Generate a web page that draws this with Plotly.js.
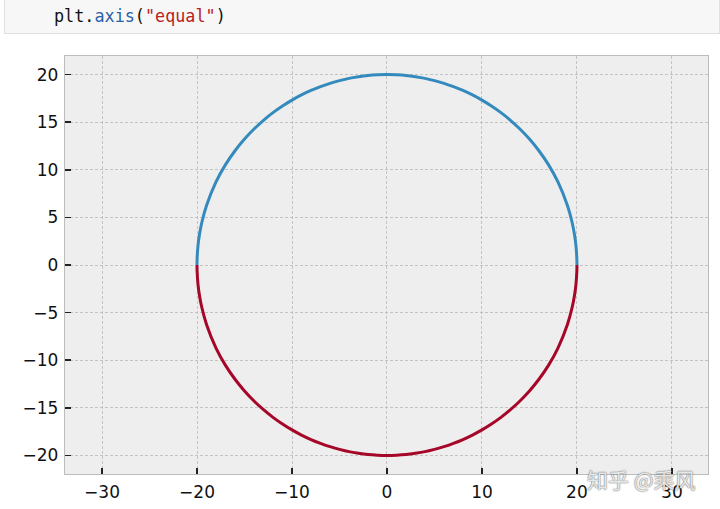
<!DOCTYPE html>
<html>
<head>
<meta charset="utf-8">
<script src="https://cdn.plot.ly/plotly-3.0.1.min.js"></script>
<style>
  html, body { margin: 0; padding: 0; background: #fff; }
  #wrap { position: relative; width: 720px; height: 509px; overflow: hidden; }
  #plot { position: absolute; left: 0; top: 0; width: 720px; height: 509px; }
  #cell { position: absolute; left: 4px; top: 0; width: 716px; height: 34px;
          background: #f7f7f7; border: 1px solid #e0e0e0; border-top: none; box-sizing: border-box;
          font-family: "DejaVu Sans Mono", monospace; font-size: 16.8px; line-height: 32px;
          padding-left: 49px; color: #111; }
  .kw { color: #2a62a8; } .st { color: #ba2121; }
</style>
</head>
<body>
<div id="wrap">
  <div id="plot"></div>
  <div id="cell">plt.<span class="kw">axis</span>(<span class="st">"equal"</span>)</div>
</div>
<script>
// Upper half of the circle (blue)
const upperX = [-20, -19.99, -19.9, -19.75, -19.5, -19, -18, -17, -16, -15, -14, -13, -12, -11, -10, -9, -8, -7, -6, -5, -4, -3, -2, -1, 0,
                1, 2, 3, 4, 5, 6, 7, 8, 9, 10, 11, 12, 13, 14, 15, 16, 17, 18, 19, 19.5, 19.75, 19.9, 19.99, 20];
const upperY = [0, 0.63, 2.0, 3.15, 4.44, 6.24, 8.72, 10.54, 12.0, 13.23, 14.28, 15.2, 16.0, 16.7, 17.32, 17.86, 18.33, 18.73, 19.08, 19.36, 19.6, 19.77, 19.9, 19.97, 20,
                19.97, 19.9, 19.77, 19.6, 19.36, 19.08, 18.73, 18.33, 17.86, 17.32, 16.7, 16.0, 15.2, 14.28, 13.23, 12.0, 10.54, 8.72, 6.24, 4.44, 3.15, 2.0, 0.63, 0];
// Lower half of the circle (red)
const lowerX = [-20, -19.99, -19.9, -19.75, -19.5, -19, -18, -17, -16, -15, -14, -13, -12, -11, -10, -9, -8, -7, -6, -5, -4, -3, -2, -1, 0,
                1, 2, 3, 4, 5, 6, 7, 8, 9, 10, 11, 12, 13, 14, 15, 16, 17, 18, 19, 19.5, 19.75, 19.9, 19.99, 20];
const lowerY = [0, -0.63, -2.0, -3.15, -4.44, -6.24, -8.72, -10.54, -12.0, -13.23, -14.28, -15.2, -16.0, -16.7, -17.32, -17.86, -18.33, -18.73, -19.08, -19.36, -19.6, -19.77, -19.9, -19.97, -20,
                -19.97, -19.9, -19.77, -19.6, -19.36, -19.08, -18.73, -18.33, -17.86, -17.32, -16.7, -16.0, -15.2, -14.28, -13.23, -12.0, -10.54, -8.72, -6.24, -4.44, -3.15, -2.0, -0.63, 0];

const xTicks = [-30, -20, -10, 0, 10, 20, 30];
const yTicks = [-20, -15, -10, -5, 0, 5, 10, 15, 20];

const traces = [
  { x: upperX, y: upperY, mode: 'lines', line: { color: '#348ABD', width: 3, shape: 'spline' }, hoverinfo: 'skip' },
  { x: lowerX, y: lowerY, mode: 'lines', line: { color: '#A60628', width: 3, shape: 'spline' }, hoverinfo: 'skip' }
];

const axisCommon = {
  showgrid: true, gridcolor: '#b8b8b8', griddash: '3px,2px', gridwidth: 0.8,
  zeroline: false, showline: true, linecolor: '#bcbcbc', linewidth: 1.2, mirror: true,
  ticks: 'inside', ticklen: 6, tickwidth: 1.5, tickcolor: '#222',
  tickfont: { family: 'DejaVu Sans', size: 17, color: '#111' }
};

const layout = {
  width: 720, height: 509,
  margin: { l: 65, r: 12, t: 56, b: 35 },
  paper_bgcolor: '#ffffff', plot_bgcolor: '#eeeeee',
  showlegend: false,
  xaxis: Object.assign({}, axisCommon, { range: [-33.9, 33.8], tickvals: xTicks, ticklabelstandoff: 2 }),
  yaxis: Object.assign({}, axisCommon, { range: [-21.95, 21.95], tickvals: yTicks, ticklabelstandoff: 2 }),
  annotations: [{
    xref: 'paper', yref: 'paper', x: 0.808, y: -0.012, xanchor: 'left', yanchor: 'middle',
    text: '知乎 @乘风', showarrow: false,
    font: { family: 'Noto Sans CJK SC', size: 21, color: 'rgba(255,255,255,0.85)',
            shadow: '0px 0px 1.5px rgba(90,90,90,0.95), 0px 0px 1px rgba(90,90,90,0.9)' }
  }]
};

Plotly.newPlot('plot', traces, layout, { displayModeBar: false, staticPlot: true });
</script>
</body>
</html>
